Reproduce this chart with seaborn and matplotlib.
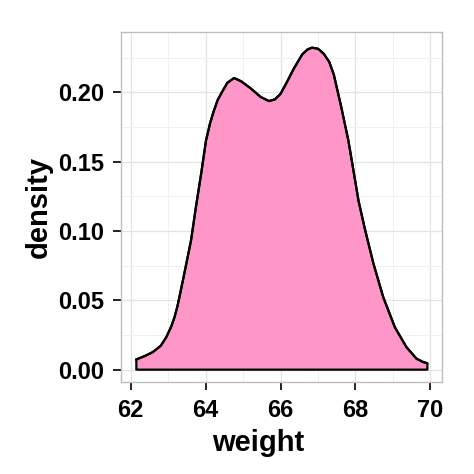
import matplotlib
matplotlib.use("Agg")
import matplotlib.pyplot as plt
import seaborn as sns
import pandas as pd

# density curve
weight = [62.15, 62.37, 62.59, 62.80, 62.95, 63.08, 63.17, 63.24, 63.30, 63.43,
          63.61, 63.74, 63.88, 64.01, 64.12, 64.21, 64.32, 64.43, 64.58, 64.76,
          64.95, 65.20, 65.47, 65.69, 65.85, 66.00, 66.18, 66.35, 66.58, 66.72,
          66.84, 67.00, 67.15, 67.30, 67.42, 67.62, 67.81, 67.96, 68.08, 68.26,
          68.48, 68.74, 69.05, 69.36, 69.63, 69.80, 69.92]
density = [0.0074, 0.0098, 0.0127, 0.0172, 0.0235, 0.0310, 0.0380, 0.0450, 0.0524, 0.0693,
           0.0933, 0.1173, 0.1414, 0.1654, 0.1780, 0.1860, 0.1945, 0.2000, 0.2070, 0.2104,
           0.2080, 0.2030, 0.1967, 0.1938, 0.1950, 0.1990, 0.2080, 0.2170, 0.2275, 0.2310,
           0.2323, 0.2315, 0.2280, 0.2220, 0.2130, 0.1895, 0.1654, 0.1414, 0.1220, 0.1005,
           0.0765, 0.0524, 0.0307, 0.0163, 0.0079, 0.0056, 0.0046]
x_ticks = [62, 64, 66, 68, 70]
y_ticks = [0.00, 0.05, 0.10, 0.15, 0.20]

df = pd.DataFrame({"weight": weight, "density": density})

sns.set_theme(style="white")
plt.rcParams['font.family'] = ['Liberation Sans', 'DejaVu Sans']

fig = plt.figure(figsize=(4.74, 4.74), dpi=100)
ax = fig.add_axes([121/474, 92/474, 321/474, 350/474])

# closed polygon like ggplot geom_density
w0, w1 = df["weight"].iloc[0], df["weight"].iloc[-1]
px = list(df["weight"]) + [w1, w0, w0]
py = list(df["density"]) + [0.0, 0.0, df["density"].iloc[0]]
ax.fill(px, py, facecolor="#FF96C8", edgecolor="none", zorder=2)
ax.plot(px, py, color="black", lw=1.6, zorder=3, solid_joinstyle="round")
sns.lineplot(data=df, x="weight", y="density", sort=False, color="black", lw=1.6,
             ax=ax, zorder=4)
for ln in ax.lines:
    ln.set_solid_joinstyle("round")
    ln.set_solid_capstyle("round")

ax.set_xlim(61.74, 70.31)
ax.set_ylim(-0.0089, 0.2436)
ax.set_xticks(x_ticks)
ax.set_yticks(y_ticks)
ax.set_xticklabels([str(t) for t in x_ticks])
ax.set_yticklabels([f"{t:.2f}" for t in y_ticks])
ax.set_xticks([63, 65, 67, 69], minor=True)
ax.set_yticks([0.025, 0.075, 0.125, 0.175, 0.225], minor=True)

ax.grid(which="major", color="#e3e3e3", lw=0.9, zorder=0)
ax.grid(which="minor", color="#f0f0f0", lw=0.7, zorder=0)
ax.set_axisbelow(True)
for s in ax.spines.values():
    s.set_color("#bdbdbd")
    s.set_linewidth(1.0)

ax.tick_params(which="major", direction="out", length=6, width=1.4, color="#222222",
               labelsize=17, bottom=True, left=True)
ax.tick_params(axis="y", which="major", pad=6)
ax.tick_params(axis="x", which="major", pad=6)
ax.tick_params(which="minor", length=0)
for lab in ax.get_xticklabels() + ax.get_yticklabels():
    lab.set_fontweight("bold")
    lab.set_color("black")

ax.set_xlabel("weight", fontsize=21, fontweight="bold", color="black", labelpad=0)
ax.xaxis.set_label_coords((258 - 121) / 321, -0.135)
ax.set_ylabel("density", fontsize=21, fontweight="bold", color="black", labelpad=4)

fig.savefig("out.png", dpi=100, facecolor="white")
